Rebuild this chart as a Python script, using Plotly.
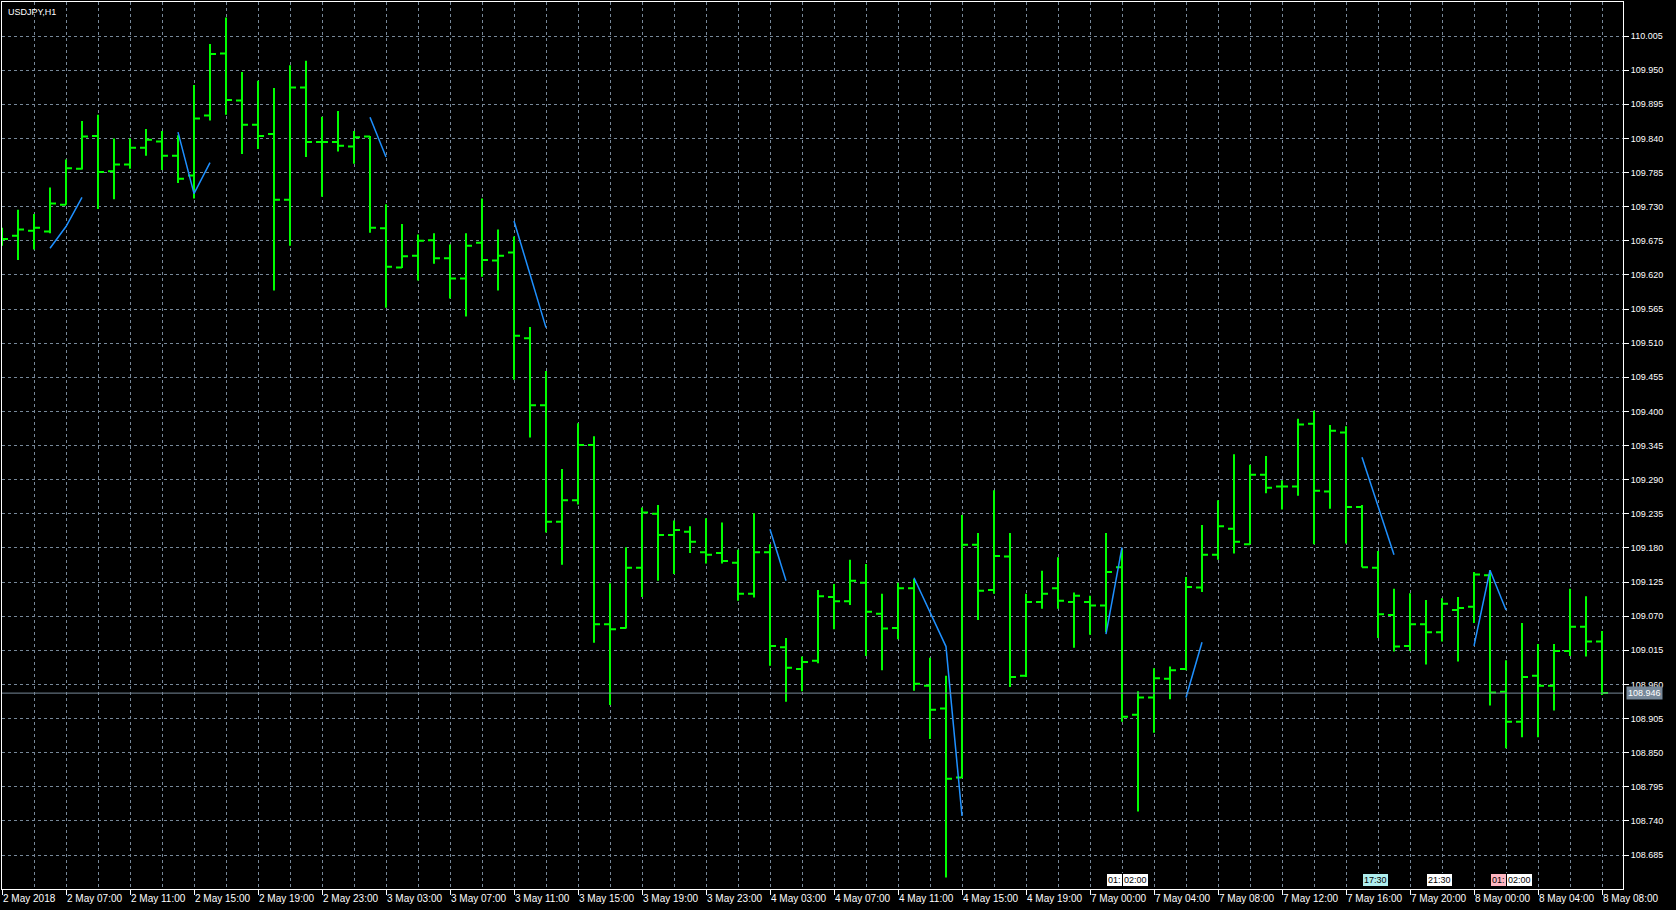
import plotly.graph_objects as go

symbol_title = "USDJPY,H1"

bar_index = list(range(101))

opens = [109.675, 109.683, 109.691, 109.690, 109.733, 109.791, 109.844, 109.787, 109.798, 109.825,
         109.835, 109.812, 109.780, 109.877, 109.977, 109.901, 109.862, 109.847, 109.741, 109.922,
         109.834, 109.834, 109.827, 109.843, 109.695, 109.632, 109.651, 109.676, 109.647, 109.614,
         109.672, 109.643, 109.656, 109.518, 109.410, 109.222, 109.257, 109.346, 109.057, 109.051,
         109.148, 109.235, 109.201, 109.206, 109.173, 109.172, 109.156, 109.106, 109.173, 109.020,
         108.985, 108.998, 109.101, 109.094, 109.124, 109.074, 109.051, 109.115, 108.958, 108.921,
         108.810, 109.185, 109.112, 109.166, 108.974, 109.093, 109.115, 109.093, 109.093, 109.087,
         109.149, 108.911, 108.939, 108.969, 108.985, 109.116, 109.169, 109.211, 109.186, 109.298,
         109.279, 109.279, 109.380, 109.271, 109.366, 109.246, 109.148, 109.072, 109.022, 109.057,
         109.044, 109.080, 109.085, 109.136, 108.948, 108.900, 108.974, 108.958, 109.014, 109.053,
         109.029]

highs = [109.696, 109.725, 109.718, 109.761, 109.806, 109.868, 109.878, 109.840, 109.840, 109.855,
         109.852, 109.845, 109.926, 109.992, 110.035, 109.947, 109.933, 109.921, 109.958, 109.965,
         109.875, 109.884, 109.852, 109.844, 109.734, 109.702, 109.685, 109.687, 109.669, 109.687,
         109.743, 109.693, 109.682, 109.536, 109.465, 109.307, 109.381, 109.360, 109.123, 109.181,
         109.245, 109.249, 109.224, 109.215, 109.228, 109.221, 109.177, 109.236, 109.186, 109.035,
         109.005, 109.112, 109.122, 109.161, 109.154, 109.106, 109.124, 109.130, 109.003, 108.974,
         109.233, 109.204, 109.273, 109.204, 109.106, 109.143, 109.165, 109.108, 109.103, 109.204,
         109.177, 108.949, 108.986, 108.989, 109.133, 109.217, 109.257, 109.331, 109.314, 109.328,
         109.289, 109.388, 109.401, 109.378, 109.376, 109.249, 109.175, 109.114, 109.107, 109.096,
         109.099, 109.101, 109.141, 109.144, 108.999, 109.059, 109.025, 109.025, 109.114, 109.102,
         109.046]

lows = [109.667, 109.644, 109.661, 109.687, 109.733, 109.790, 109.726, 109.742, 109.791, 109.812,
        109.789, 109.768, 109.743, 109.869, 109.878, 109.815, 109.823, 109.595, 109.667, 109.810,
        109.746, 109.819, 109.799, 109.688, 109.567, 109.631, 109.611, 109.638, 109.582, 109.553,
        109.617, 109.595, 109.451, 109.358, 109.205, 109.153, 109.250, 109.027, 108.927, 109.050,
        109.101, 109.127, 109.138, 109.172, 109.155, 109.155, 109.095, 109.100, 108.990, 108.932,
        108.949, 108.994, 109.049, 109.088, 109.006, 108.983, 109.033, 108.950, 108.872, 108.649,
        108.809, 109.064, 109.106, 108.956, 108.972, 109.082, 109.082, 109.019, 109.040, 109.044,
        108.900, 108.755, 108.882, 108.936, 108.983, 109.109, 109.161, 109.171, 109.186, 109.268,
        109.242, 109.264, 109.186, 109.243, 109.187, 109.149, 109.035, 109.013, 109.014, 108.992,
        109.029, 108.997, 109.059, 108.926, 108.857, 108.875, 108.875, 108.918, 109.006, 109.005,
        108.943]

closes = [109.678, 109.693, 109.696, 109.735, 109.792, 109.843, 109.786, 109.798, 109.825, 109.838,
          109.812, 109.775, 109.872, 109.976, 109.902, 109.862, 109.844, 109.741, 109.922, 109.834,
          109.834, 109.828, 109.842, 109.696, 109.633, 109.650, 109.675, 109.647, 109.614, 109.667,
          109.644, 109.651, 109.522, 109.410, 109.222, 109.257, 109.346, 109.057, 109.049, 109.148,
          109.237, 109.201, 109.209, 109.190, 109.169, 109.159, 109.106, 109.173, 109.022, 108.987,
          108.996, 109.102, 109.094, 109.127, 109.077, 109.050, 109.115, 108.961, 108.919, 108.808,
          109.185, 109.111, 109.167, 108.972, 109.093, 109.106, 109.095, 109.103, 109.087, 109.141,
          108.908, 108.939, 108.970, 108.983, 109.117, 109.169, 109.215, 109.190, 109.298, 109.277,
          109.279, 109.379, 109.272, 109.369, 109.246, 109.149, 109.073, 109.021, 109.057, 109.044,
          109.090, 109.083, 109.137, 108.947, 108.900, 108.972, 108.958, 109.014, 109.053, 109.029,
          108.946]

# blue indicator segments (None separates segments)
blue_x = [3, 4, 5, None, 11, 12, 13, None, 23, 24, None, 32, 34, None, 48, 49, None,
          57, 59, 60, None, 69, 70, None, 74, 75, None, 85, 87, None, 92, 93, 94]
blue_y = [109.663, 109.698, 109.745, None, 109.850, 109.751, 109.801, None, 109.874, 109.810, None,
          109.707, 109.535, None, 109.210, 109.127, None, 109.132, 109.021, 108.748, None,
          109.041, 109.181, None, 108.939, 109.028, None, 109.326, 109.169, None,
          109.022, 109.144, 109.080]

price_ticks = [110.005, 109.950, 109.895, 109.840, 109.785, 109.730, 109.675, 109.620, 109.565,
               109.510, 109.455, 109.400, 109.345, 109.290, 109.235, 109.180, 109.125, 109.070,
               109.015, 108.960, 108.905, 108.850, 108.795, 108.740, 108.685]

time_tick_bars = [0, 4, 8, 12, 16, 20, 24, 28, 32, 36, 40, 44, 48, 52, 56, 60, 64, 68, 72, 76,
                  80, 84, 88, 92, 96, 100]
time_tick_labels = ["2 May 2018", "2 May 07:00", "2 May 11:00", "2 May 15:00", "2 May 19:00",
                    "2 May 23:00", "3 May 03:00", "3 May 07:00", "3 May 11:00", "3 May 15:00",
                    "3 May 19:00", "3 May 23:00", "4 May 03:00", "4 May 07:00", "4 May 11:00",
                    "4 May 15:00", "4 May 19:00", "7 May 00:00", "7 May 04:00", "7 May 08:00",
                    "7 May 12:00", "7 May 16:00", "7 May 20:00", "8 May 00:00", "8 May 04:00",
                    "8 May 08:00"]

event_bars = [69, 70, 85, 89, 93, 94]
event_texts = ["01:", "02:00", "17:30", "21:30", "01:", "02:00"]
event_colors = ["#ffffff", "#ffffff", "#afeeee", "#ffffff", "#ffb6c1", "#ffffff"]

FONT = "Liberation Sans, Arial, sans-serif"
GREEN = "#00ff00"
GRID = "#778899"

fig = go.Figure()

fig.add_trace(go.Ohlc(
    x=bar_index, open=opens, high=highs, low=lows, close=closes,
    increasing=dict(line=dict(color=GREEN, width=2)),
    decreasing=dict(line=dict(color=GREEN, width=2)),
    tickwidth=0.375, showlegend=False, hoverinfo="skip",
))

fig.add_trace(go.Scatter(
    x=blue_x, y=blue_y, mode="lines", connectgaps=False,
    line=dict(color="#1e90ff", width=1.5), showlegend=False, hoverinfo="skip",
))

# bid line at last close
fig.add_shape(type="line", xref="paper", x0=0, x1=1, yref="y", y0=closes[-1], y1=closes[-1],
              line=dict(color=GRID, width=1), layer="above")

fig.add_annotation(xref="paper", x=1, xanchor="left", xshift=3, yref="y", y=closes[-1],
                   text=f"{closes[-1]:.3f}", showarrow=False, bgcolor=GRID, borderpad=1,
                   font=dict(family=FONT, size=9, color="#ffffff"))

fig.add_annotation(xref="paper", yref="paper", x=0, y=1, xanchor="left", yanchor="top",
                   xshift=4, yshift=-3, text=symbol_title, showarrow=False,
                   font=dict(family=FONT, size=9, color="#ffffff"))

for b, t, c in zip(event_bars, event_texts, event_colors):
    fig.add_annotation(xref="x", x=b, yref="paper", y=0, xanchor="left", yanchor="bottom",
                       yshift=2, text=t, showarrow=False, bgcolor=c, borderpad=1,
                       bordercolor="#000000", borderwidth=1,
                       font=dict(family=FONT, size=9, color="#000000"))

fig.update_layout(
    width=1676, height=910, autosize=False,
    margin=dict(l=2, r=53, t=2, b=21, pad=0),
    paper_bgcolor="#000000", plot_bgcolor="#000000",
    font=dict(family=FONT, size=9, color="#ffffff"),
    xaxis=dict(
        range=[0, 101.3125], rangeslider=dict(visible=False),
        tickmode="array", tickvals=time_tick_bars, ticktext=time_tick_labels,
        tickangle=0, automargin=False,
        ticks="outside", ticklen=5, tickcolor="#ffffff", tickwidth=1,
        ticklabelposition="outside right",
        tickfont=dict(family=FONT, size=10, color="#ffffff"),
        showgrid=True, gridcolor=GRID, griddash="3px,3px", gridwidth=1,
        minor=dict(tick0=0, dtick=2, showgrid=True, gridcolor=GRID, griddash="3px,3px",
                   gridwidth=1, ticks=""),
        showline=True, linecolor="#ffffff", linewidth=1, mirror=True,
        zeroline=False, fixedrange=True,
    ),
    yaxis=dict(
        range=[108.6303, 110.0598], side="right", automargin=False,
        tickmode="array", tickvals=price_ticks, tickformat=".3f",
        ticks="outside", ticklen=5, tickcolor="#ffffff", tickwidth=1,
        tickfont=dict(family=FONT, size=9, color="#ffffff"),
        showgrid=True, gridcolor=GRID, griddash="3px,3px", gridwidth=1,
        showline=True, linecolor="#ffffff", linewidth=1, mirror=True,
        zeroline=False, fixedrange=True,
    ),
)

fig.write_html("out.html", config={"displayModeBar": False},
               post_script="document.body.style.margin='0';document.body.style.overflow='hidden';")
